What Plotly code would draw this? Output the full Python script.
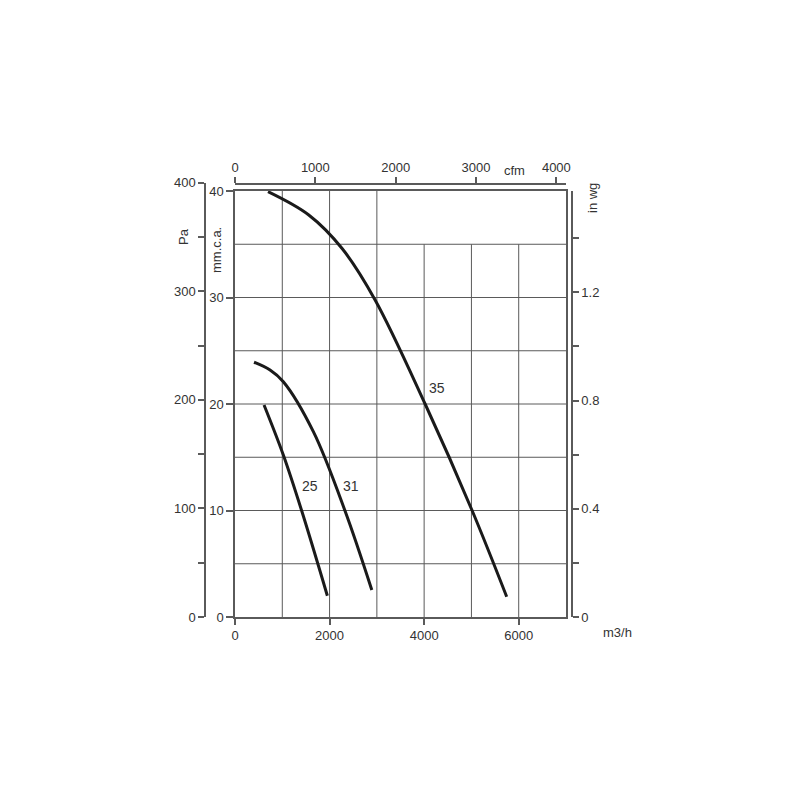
import plotly.graph_objects as go

# fan curves: flow in m3/h, static pressure in mm.c.a.
flow_25 = [614, 1022, 1412, 1953]
press_25 = [19.91, 15.21, 9.95, 2.0]

flow_31 = [402, 741, 1022, 1657, 2328, 2893]
press_31 = [23.92, 23.19, 22.09, 17.40, 9.95, 2.54]

flow_35 = [698, 1560, 2265, 2963, 4021, 5010, 5746]
press_35 = [39.94, 37.75, 34.6, 29.77, 20.0, 10.05, 1.9]

curve_names = ["25", "31", "35"]
label_flow = [1582, 2458, 4275]
label_press = [12.3, 12.3, 21.5]

flow_ticks = [0, 2000, 4000, 6000]
cfm_ticks = [0, 1000, 2000, 3000, 4000]
mm_ticks = [0, 10, 20, 30, 40]
pa_ticks = [0, 100, 200, 300, 400]
inwg_ticks = [0, 0.4, 0.8, 1.2]

grid_mm = [5, 10, 15, 20, 25, 30, 35]
grid_flow_full = [1000, 2000, 3000]
grid_flow_short = [4000, 5000, 6000]

FLOW_MAX = 7000
MM_MAX = 40
PA_PER_MM = 9.80665
MM_PER_INWG = 25.4
M3H_PER_CFM = 1.699

# pixel layout helpers
L, R, T, B = 195, 600, 175, 625
W, H = R - L, B - T


def px(x):
    return (x - L) / W


def py(y):
    return (B - y) / H


Y0, Y40 = 617, 191
pa_top_px = Y0 - (400 / PA_PER_MM) * (Y0 - Y40) / MM_MAX

ink = "#333333"
axis_col = "#5a5a5a"
font = dict(family="Liberation Sans, Arial, sans-serif", size=13, color=ink)

fig = go.Figure()

for name, xs, ys in zip(curve_names, [flow_25, flow_31, flow_35], [press_25, press_31, press_35]):
    fig.add_trace(go.Scatter(x=xs, y=ys, mode="lines",
                             line=dict(color="#1a1a1a", width=3, shape="spline", smoothing=1.0),
                             name=name, showlegend=False, hoverinfo="skip"))

# invisible traces so the extra axes get drawn
fig.add_trace(go.Scatter(x=[], y=[], xaxis="x2", yaxis="y", showlegend=False))
fig.add_trace(go.Scatter(x=[], y=[], xaxis="x", yaxis="y2", showlegend=False))
fig.add_trace(go.Scatter(x=[], y=[], xaxis="x", yaxis="y3", showlegend=False))

shapes = []
for m in grid_mm:
    shapes.append(dict(type="line", xref="x", yref="y", x0=0, x1=FLOW_MAX, y0=m, y1=m,
                       line=dict(color=axis_col, width=1), layer="below"))
for f in grid_flow_full:
    shapes.append(dict(type="line", xref="x", yref="y", x0=f, x1=f, y0=0, y1=MM_MAX,
                       line=dict(color=axis_col, width=1), layer="below"))
for f in grid_flow_short:
    shapes.append(dict(type="line", xref="x", yref="y", x0=f, x1=f, y0=0, y1=35,
                       line=dict(color=axis_col, width=1), layer="below"))

annotations = []
for name, x, y in zip(curve_names, label_flow, label_press):
    annotations.append(dict(x=x, y=y, xref="x", yref="y", text=name, showarrow=False,
                            font=dict(size=14, color=ink, family=font["family"])))


def label(x, y, text, angle=0):
    return dict(x=px(x), y=py(y), xref="paper", yref="paper", text=text, textangle=angle,
                xanchor="center", yanchor="middle", showarrow=False, font=font)


annotations += [
    label(183, 237, "Pa", -90),
    label(216, 250, "mm.c.a.", -90),
    label(592, 198, "in wg", -90),
    label(514, 171, "cfm"),
    label(617, 632, "m3/h"),
]

axis_common = dict(showgrid=False, zeroline=False, showline=True, linecolor=axis_col, linewidth=1.5,
                   ticks="outside", tickcolor=axis_col, tickwidth=1.5, tickfont=font)

fig.update_layout(
    width=800, height=800,
    margin=dict(l=L, r=800 - R, t=T, b=800 - B, autoexpand=False),
    plot_bgcolor="rgba(0,0,0,0)", paper_bgcolor="white",
    font=font,
    shapes=shapes,
    annotations=annotations,
    xaxis=dict(domain=[px(235), px(566)], range=[0, FLOW_MAX], tickvals=flow_ticks, ticklen=6,
               mirror=True, anchor="y", **axis_common),
    xaxis2=dict(domain=[px(235), px(566)], range=[0, FLOW_MAX / M3H_PER_CFM], tickvals=cfm_ticks, ticklen=6,
                side="top", overlaying="x", anchor="free", position=py(184), **axis_common),
    yaxis=dict(domain=[py(Y0), py(Y40)], range=[0, MM_MAX], tickvals=mm_ticks, ticklen=7,
               mirror=True, anchor="x", **axis_common),
    yaxis2=dict(domain=[py(Y0), py(pa_top_px)], range=[0, 400], tickvals=pa_ticks, ticklen=6,
                minor=dict(dtick=50, ticks="outside", ticklen=6, tickcolor=axis_col, tickwidth=1.5),
                anchor="free", position=px(205), side="left", **axis_common),
    yaxis3=dict(domain=[py(Y0), py(Y40)], range=[0, MM_MAX / MM_PER_INWG], tickvals=inwg_ticks, ticklen=6,
                ticktext=["0", "0.4", "0.8", "1.2"],
                minor=dict(dtick=0.2, ticks="outside", ticklen=6, tickcolor=axis_col, tickwidth=1.5),
                anchor="free", position=px(572), side="right", **axis_common),
)

fig.write_html("out.html", config={"displayModeBar": False},
               post_script="document.body.style.margin='0';")
